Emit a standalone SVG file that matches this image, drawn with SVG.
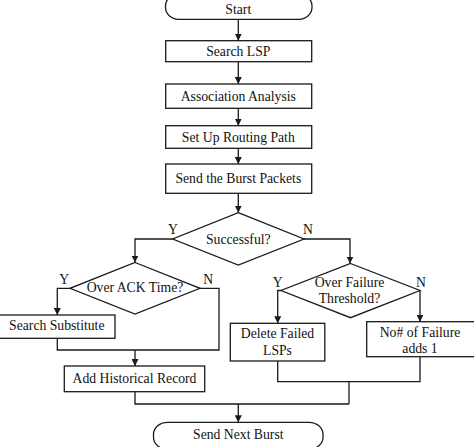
<svg xmlns="http://www.w3.org/2000/svg" width="474" height="447" viewBox="0 0 474 447">
<style>
.s{fill:#fff;stroke:#1a1a1a;stroke-width:1.3}
.c{fill:none;stroke:#1a1a1a;stroke-width:1.3}
text{font-family:"Liberation Serif","Times New Roman",serif;font-size:13.7px;fill:#111;text-anchor:middle}
</style>
<defs>
<marker id="a" viewBox="0 0 10 10" refX="10" refY="5" markerWidth="7" markerHeight="7" markerUnits="userSpaceOnUse" orient="auto">
<path d="M0,0 L10,5 L0,10 z" fill="#1a1a1a"/>
</marker>
</defs>
<rect width="474" height="447" fill="#fff"/>
<g id="connectors">
<path class="c" d="M238.3,19.3 V40.7" marker-end="url(#a)"/>
<path class="c" d="M238.3,61.7 V84" marker-end="url(#a)"/>
<path class="c" d="M238.3,108.3 V125.7" marker-end="url(#a)"/>
<path class="c" d="M238.3,148.3 V164" marker-end="url(#a)"/>
<path class="c" d="M238.3,193.3 V212.7" marker-end="url(#a)"/>
<path class="c" d="M172.7,239 H135 V262.5" marker-end="url(#a)"/>
<path class="c" d="M304,239 H350 V263.5" marker-end="url(#a)"/>
<path class="c" d="M70,288.3 H57.3 V315" marker-end="url(#a)"/>
<path class="c" d="M200,288.3 H219 V350 H57.3 V338.3"/>
<path class="c" d="M135,350 V366" marker-end="url(#a)"/>
<path class="c" d="M281,290.5 H277.7 V323.3" marker-end="url(#a)"/>
<path class="c" d="M420,290.5 V321.7" marker-end="url(#a)"/>
<path class="c" d="M277.7,361 V381.7 H420 V356.7"/>
<path class="c" d="M349,381.7 V404"/>
<path class="c" d="M135,391.7 V404 H349"/>
<path class="c" d="M238.3,404 V422.3" marker-end="url(#a)"/>
<text x="173" y="234">Y</text>
<text x="308" y="234">N</text>
<text x="64.3" y="284">Y</text>
<text x="208.3" y="284">N</text>
<text x="277.7" y="287.3">Y</text>
<text x="421" y="287.3">N</text>
</g>
<g id="start">
<rect class="s" x="165.5" y="-6" width="146.5" height="25.3" rx="13" ry="12"/>
<text x="238.3" y="14">Start</text>
</g>
<g id="search-lsp">
<rect class="s" x="165.7" y="40.7" width="146" height="21"/>
<text x="238.3" y="55.5">Search LSP</text>
</g>
<g id="association">
<rect class="s" x="165.7" y="84" width="146" height="24.3"/>
<text x="238.3" y="100.5">Association Analysis</text>
</g>
<g id="routing">
<rect class="s" x="165.7" y="125.7" width="146" height="22.6"/>
<text x="238.3" y="141.5">Set Up Routing Path</text>
</g>
<g id="send-burst">
<rect class="s" x="165.7" y="164" width="146" height="29.3"/>
<text x="238.3" y="183">Send the Burst Packets</text>
</g>
<g id="successful">
<path class="s" d="M238.3,212.7 L304,239 L238.3,265 L172.7,239 Z"/>
<text x="238.3" y="243.5">Successful?</text>
</g>
<g id="over-ack">
<path class="s" d="M135,262.5 L200,288.3 L135,314 L70,288.3 Z"/>
<text x="135" y="291.7">Over ACK Time?</text>
</g>
<g id="over-failure">
<path class="s" d="M350.5,263.5 L420,290.5 L350.5,317.7 L281,290.5 Z"/>
<text x="349.5" y="286.7">Over Failure</text>
<text x="349.5" y="303.3">Threshold?</text>
</g>
<g id="search-substitute">
<rect class="s" x="-1" y="315" width="116" height="23.3"/>
<text x="56.8" y="330">Search Substitute</text>
</g>
<g id="add-historical">
<rect class="s" x="64.3" y="366" width="140.4" height="25.7"/>
<text x="134.5" y="382.7">Add Historical Record</text>
</g>
<g id="delete-failed">
<rect class="s" x="230.3" y="323.3" width="94.5" height="37.7"/>
<text x="277.5" y="338.3">Delete Failed</text>
<text x="277.5" y="355">LSPs</text>
</g>
<g id="no-failure">
<rect class="s" x="366.7" y="321.7" width="108" height="35"/>
<text x="420" y="336.7">No# of Failure</text>
<text x="420" y="353.3">adds 1</text>
</g>
<g id="send-next">
<rect class="s" x="153.5" y="422.3" width="169.5" height="27" rx="14" ry="12"/>
<text x="238.3" y="438.5">Send Next Burst</text>
</g>
</svg>
